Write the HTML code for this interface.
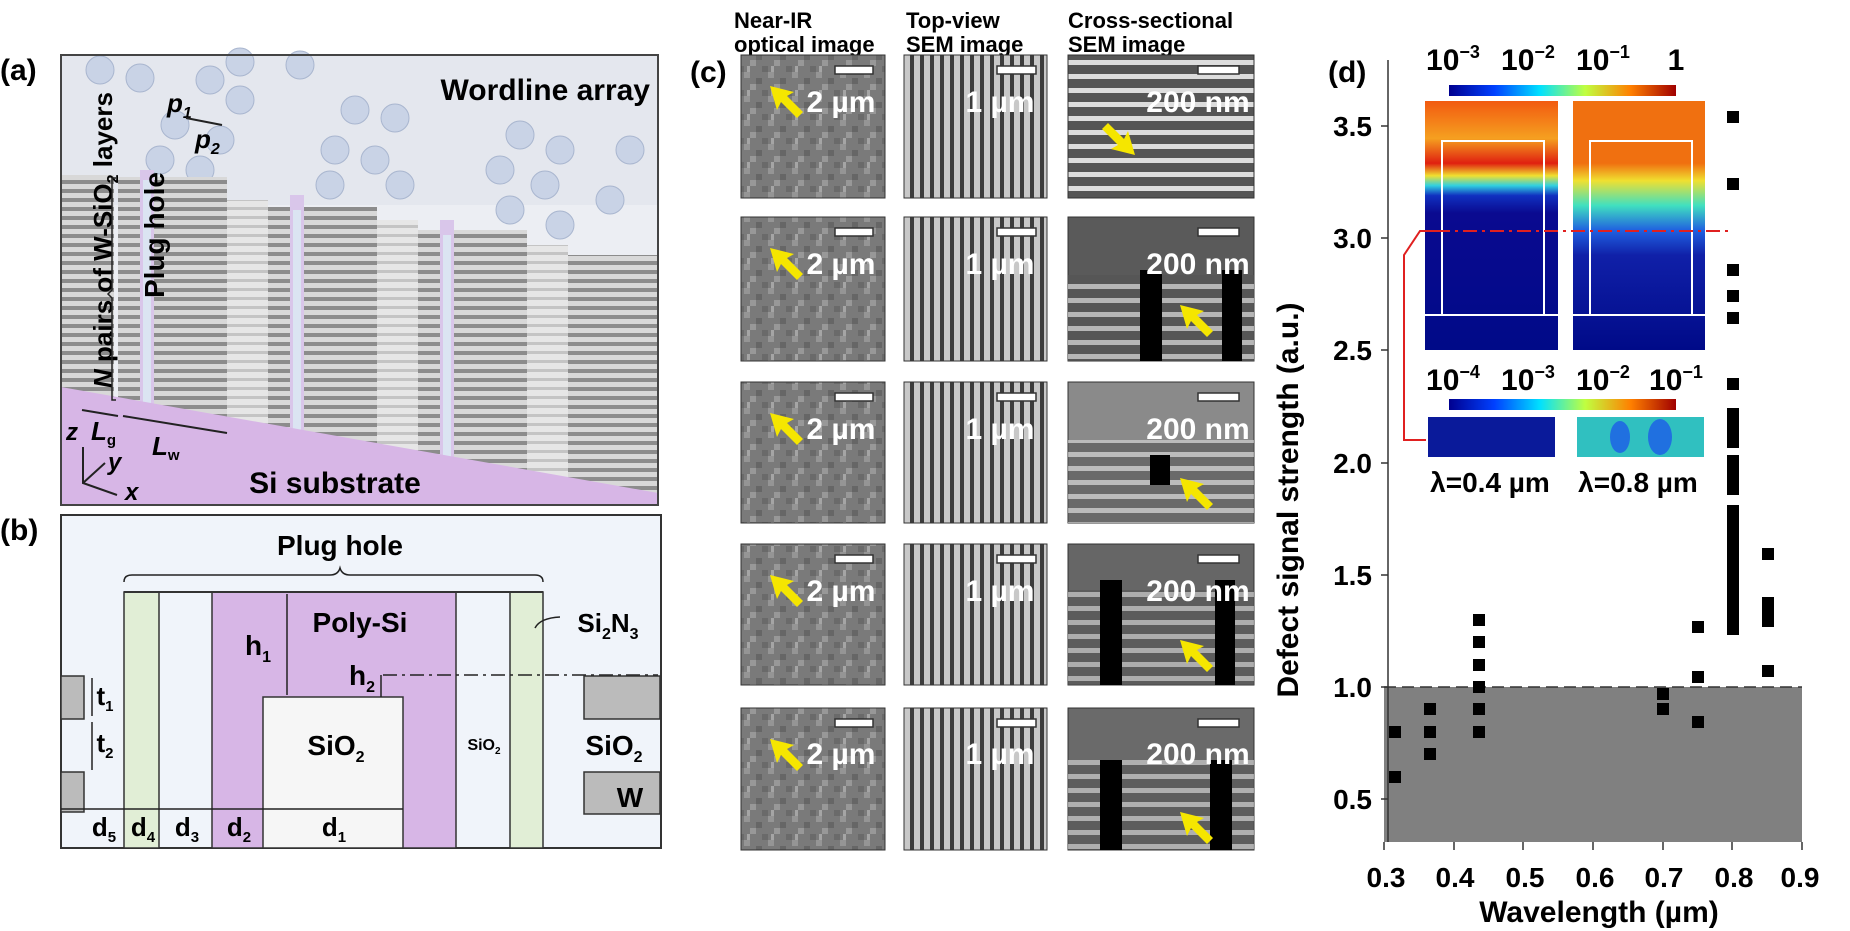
<!DOCTYPE html>
<html><head><meta charset="utf-8"><style>
html,body{margin:0;padding:0;background:#fff;}
svg{display:block;font-family:"Liberation Sans",Arial,sans-serif;font-weight:bold;}
</style></head><body>
<svg width="1850" height="931" viewBox="0 0 1850 931" xmlns="http://www.w3.org/2000/svg">
<defs>
<pattern id="stripes" width="10" height="9" patternUnits="userSpaceOnUse">
<rect width="10" height="9" fill="#d8d8d8"/><rect y="0" width="10" height="4" fill="#8c8c8c"/></pattern>
<pattern id="lstripes" width="10" height="9" patternUnits="userSpaceOnUse">
<rect width="10" height="9" fill="#e6e6e6"/><rect y="0" width="10" height="3" fill="#c4c4c4"/></pattern>
<pattern id="vstripes" width="10" height="10" patternUnits="userSpaceOnUse">
<rect width="10" height="10" fill="#c8c8c8"/><rect width="4" height="10" fill="#3c3c3c"/></pattern>
<pattern id="noise" width="24" height="24" patternUnits="userSpaceOnUse">
<rect width="24" height="24" fill="#7a7a7a"/><rect x="0" y="0" width="6" height="6" fill="#959595"/><rect x="12" y="6" width="6" height="6" fill="#666"/><rect x="6" y="12" width="6" height="6" fill="#989898"/><rect x="18" y="18" width="6" height="6" fill="#6a6a6a"/><rect x="3" y="18" width="3" height="6" fill="#a5a5a5"/></pattern>
<pattern id="hstr" width="10" height="14" patternUnits="userSpaceOnUse">
<rect width="10" height="14" fill="#555"/><rect y="4" width="10" height="5" fill="#ddd"/></pattern>
<linearGradient id="map1" x1="0" y1="0" x2="0" y2="1">
<stop offset="0" stop-color="#f25a10"/><stop offset="0.15" stop-color="#f5a020"/><stop offset="0.25" stop-color="#e02010"/><stop offset="0.3" stop-color="#f0e030"/><stop offset="0.34" stop-color="#30d0e0"/><stop offset="0.38" stop-color="#1030c0"/><stop offset="0.45" stop-color="#0a0a90"/><stop offset="1" stop-color="#000a88"/></linearGradient>
<linearGradient id="map2" x1="0" y1="0" x2="0" y2="1">
<stop offset="0" stop-color="#f07010"/><stop offset="0.25" stop-color="#f07010"/><stop offset="0.32" stop-color="#f0e030"/><stop offset="0.42" stop-color="#40e0c0"/><stop offset="0.52" stop-color="#2060e0"/><stop offset="0.62" stop-color="#1020a8"/><stop offset="1" stop-color="#000a88"/></linearGradient>
<linearGradient id="jet" x1="0" y1="0" x2="1" y2="0">
<stop offset="0" stop-color="#00008f"/><stop offset="0.2" stop-color="#0040ff"/><stop offset="0.4" stop-color="#00e0ff"/><stop offset="0.6" stop-color="#c0ff40"/><stop offset="0.8" stop-color="#ff8000"/><stop offset="1" stop-color="#a00000"/></linearGradient>
</defs>

<!-- Panel (a) -->
<text x="0" y="80" font-size="30">(a)</text>
<rect x="61" y="55" width="597" height="450" fill="#eceef3"/>
<rect x="61" y="55" width="597" height="150" fill="#e4e7ee"/>
<polygon points="227,200 268,200 268,460 227,450" fill="url(#lstripes)"/>
<polygon points="377,220 418,220 418,480 377,470" fill="url(#lstripes)"/>
<polygon points="527,245 568,245 568,500 527,490" fill="url(#lstripes)"/>
<g fill="#c9d3e6" stroke="#a9b6cf" stroke-width="1">
<circle cx="100" cy="70" r="14"/><circle cx="140" cy="78" r="14"/><circle cx="210" cy="80" r="14"/><circle cx="240" cy="100" r="14"/><circle cx="175" cy="125" r="14"/><circle cx="220" cy="140" r="14"/><circle cx="160" cy="160" r="14"/><circle cx="200" cy="170" r="14"/>
<circle cx="240" cy="62" r="14"/><circle cx="300" cy="65" r="14"/><circle cx="355" cy="110" r="14"/><circle cx="395" cy="118" r="14"/><circle cx="335" cy="150" r="14"/><circle cx="375" cy="160" r="14"/><circle cx="400" cy="185" r="14"/><circle cx="330" cy="185" r="14"/>
<circle cx="520" cy="135" r="14"/><circle cx="560" cy="150" r="14"/><circle cx="500" cy="170" r="14"/><circle cx="545" cy="185" r="14"/><circle cx="510" cy="210" r="14"/><circle cx="560" cy="225" r="14"/><circle cx="630" cy="150" r="14"/><circle cx="610" cy="200" r="14"/>
</g>
<rect x="61" y="175" width="53" height="230" fill="url(#stripes)"/>
<rect x="118" y="177" width="109" height="290" fill="url(#stripes)"/>
<rect x="140" y="170" width="14" height="300" fill="#d9c6ea"/><rect x="143" y="180" width="8" height="290" fill="#dbe4f2"/>
<rect x="268" y="207" width="109" height="290" fill="url(#stripes)"/>
<rect x="290" y="195" width="14" height="300" fill="#d9c6ea"/><rect x="293" y="210" width="8" height="290" fill="#dbe4f2"/>
<rect x="418" y="230" width="109" height="270" fill="url(#stripes)"/>
<rect x="440" y="220" width="14" height="280" fill="#d9c6ea"/><rect x="443" y="235" width="8" height="270" fill="#dbe4f2"/>
<rect x="568" y="255" width="90" height="250" fill="url(#stripes)"/>
<polygon points="61,387 658,493 658,505 61,505" fill="#d7b6e6"/>
<rect x="61" y="55" width="597" height="450" fill="none" stroke="#444" stroke-width="2"/>
<text x="650" y="100" font-size="30" text-anchor="end">Wordline array</text>
<text x="335" y="493" font-size="30" text-anchor="middle">Si substrate</text>
<text x="167" y="112" font-size="26" font-style="italic">p<tspan font-size="16" dy="6">1</tspan></text>
<text x="195" y="148" font-size="26" font-style="italic">p<tspan font-size="16" dy="6">2</tspan></text>
<line x1="186" y1="118" x2="222" y2="125" stroke="#222" stroke-width="2"/>
<text transform="translate(112,240) rotate(-90)" font-size="26" text-anchor="middle"><tspan font-style="italic">N</tspan> pairs of W-SiO<tspan font-size="16" dy="6">2</tspan><tspan dy="-6"> layers</tspan></text>
<path d="M116,178 L112,178 L112,290 L108,294 L112,298 L112,400 L116,400" fill="none" stroke="#222" stroke-width="1.5"/>
<text transform="translate(164,235) rotate(-90)" font-size="28" text-anchor="middle">Plug hole</text>
<line x1="82" y1="410" x2="118" y2="416" stroke="#222" stroke-width="2"/>
<line x1="123" y1="416" x2="227" y2="433" stroke="#222" stroke-width="2"/>
<text x="91" y="440" font-size="26" font-style="italic">L<tspan font-size="15" dy="5" font-style="normal">g</tspan></text>
<text x="152" y="455" font-size="26" font-style="italic">L<tspan font-size="15" dy="5" font-style="normal">w</tspan></text>
<text x="66" y="440" font-size="24" font-style="italic">z</text>
<text x="108" y="470" font-size="24" font-style="italic">y</text>
<text x="125" y="500" font-size="24" font-style="italic">x</text>
<path d="M83,447 L83,483 L117,495 M83,483 L105,463" fill="none" stroke="#222" stroke-width="2"/>

<!-- Panel (b) -->
<text x="0" y="540" font-size="30">(b)</text>
<rect x="61" y="515" width="600" height="333" fill="#f0f4fa" stroke="#333" stroke-width="2"/>
<text x="340" y="555" font-size="28" text-anchor="middle">Plug hole</text>
<path d="M124,582 Q124,575 132,575 L330,575 Q338,575 340,568 Q342,575 350,575 L535,575 Q543,575 543,582" fill="none" stroke="#222" stroke-width="1.5"/>
<rect x="124" y="592" width="35" height="256" fill="#e1eed6" stroke="#333" stroke-width="1.5"/>
<rect x="510" y="592" width="33" height="256" fill="#e1eed6" stroke="#333" stroke-width="1.5"/>
<rect x="212" y="592" width="244" height="256" fill="#d7b6e6" stroke="#333" stroke-width="1.5"/>
<line x1="124" y1="592" x2="543" y2="592" stroke="#333" stroke-width="2"/>
<rect x="263" y="697" width="140" height="151" fill="#f6f6f6" stroke="#333" stroke-width="1.5"/>
<text x="360" y="632" font-size="28" text-anchor="middle">Poly-Si</text>
<line x1="287" y1="594" x2="287" y2="695" stroke="#222" stroke-width="1.5"/>
<text x="258" y="655" font-size="28" text-anchor="middle">h<tspan font-size="16" dy="7">1</tspan></text>
<text x="362" y="685" font-size="28" text-anchor="middle">h<tspan font-size="16" dy="7">2</tspan></text>
<line x1="381" y1="675" x2="381" y2="697" stroke="#222" stroke-width="1.5"/>
<line x1="383" y1="675" x2="658" y2="675" stroke="#222" stroke-width="1.5" stroke-dasharray="14,5,3,5"/>
<text x="336" y="755" font-size="28" text-anchor="middle">SiO<tspan font-size="16" dy="7">2</tspan></text>
<text x="484" y="750" font-size="16" text-anchor="middle">SiO<tspan font-size="10" dy="4">2</tspan></text>
<text x="608" y="632" font-size="26" text-anchor="middle">Si<tspan font-size="16" dy="7">2</tspan><tspan dy="-7">N</tspan><tspan font-size="16" dy="7">3</tspan></text>
<path d="M535,628 Q540,618 560,617" fill="none" stroke="#222" stroke-width="1.5"/>
<rect x="61" y="676" width="23" height="43" fill="#bbb" stroke="#333" stroke-width="1.5"/>
<rect x="61" y="772" width="23" height="40" fill="#bbb" stroke="#333" stroke-width="1.5"/>
<rect x="584" y="676" width="76" height="43" fill="#bbb" stroke="#333" stroke-width="1.5"/>
<rect x="584" y="772" width="76" height="42" fill="#bbb" stroke="#333" stroke-width="1.5"/>
<text x="614" y="755" font-size="28" text-anchor="middle">SiO<tspan font-size="16" dy="7">2</tspan></text>
<text x="630" y="807" font-size="28" text-anchor="middle">W</text>
<text x="105" y="705" font-size="26" text-anchor="middle">t<tspan font-size="15" dy="6">1</tspan></text>
<text x="105" y="752" font-size="26" text-anchor="middle">t<tspan font-size="15" dy="6">2</tspan></text>
<line x1="92" y1="678" x2="92" y2="716" stroke="#222" stroke-width="1.5"/>
<line x1="92" y1="722" x2="92" y2="770" stroke="#222" stroke-width="1.5"/>
<line x1="61" y1="809" x2="403" y2="809" stroke="#222" stroke-width="1.5"/>
<g font-size="26" text-anchor="middle">
<text x="104" y="836">d<tspan font-size="15" dy="6">5</tspan></text>
<text x="143" y="836">d<tspan font-size="15" dy="6">4</tspan></text>
<text x="187" y="836">d<tspan font-size="15" dy="6">3</tspan></text>
<text x="239" y="836">d<tspan font-size="15" dy="6">2</tspan></text>
<text x="334" y="836">d<tspan font-size="15" dy="6">1</tspan></text>
</g>

<!-- Panel (c) -->
<text x="690" y="82" font-size="30">(c)</text>
<g font-size="22">
<text x="734" y="28">Near-IR</text><text x="734" y="52">optical image</text>
<text x="906" y="28">Top-view</text><text x="906" y="52">SEM image</text>
<text x="1068" y="28">Cross-sectional</text><text x="1068" y="52">SEM image</text>
</g>
<g>
<rect x="741" y="55" width="144" height="143" fill="url(#noise)" stroke="#333"/>
<rect x="904" y="55" width="143" height="143" fill="url(#vstripes)" stroke="#333"/>
<rect x="1068" y="55" width="186" height="143" fill="url(#hstr)" stroke="#333"/>
<rect x="741" y="217" width="144" height="144" fill="url(#noise)" stroke="#333"/>
<rect x="904" y="217" width="143" height="144" fill="url(#vstripes)" stroke="#333"/>
<rect x="1068" y="217" width="186" height="144" fill="#5a5a5a" stroke="#333"/>
<rect x="1068" y="275" width="186" height="86" fill="url(#hstr)" opacity="0.7"/>
<rect x="1140" y="270" width="22" height="91" fill="#000"/><rect x="1222" y="270" width="20" height="91" fill="#000"/>
<rect x="741" y="382" width="144" height="141" fill="url(#noise)" stroke="#333"/>
<rect x="904" y="382" width="143" height="141" fill="url(#vstripes)" stroke="#333"/>
<rect x="1068" y="382" width="186" height="141" fill="#8a8a8a" stroke="#333"/>
<rect x="1068" y="440" width="186" height="83" fill="url(#hstr)" opacity="0.6"/>
<rect x="1150" y="455" width="20" height="30" fill="#000"/>
<rect x="741" y="544" width="144" height="141" fill="url(#noise)" stroke="#333"/>
<rect x="904" y="544" width="143" height="141" fill="url(#vstripes)" stroke="#333"/>
<rect x="1068" y="544" width="186" height="141" fill="#666" stroke="#333"/>
<rect x="1068" y="590" width="186" height="95" fill="url(#hstr)" opacity="0.6"/>
<rect x="1100" y="580" width="22" height="105" fill="#000"/><rect x="1215" y="580" width="20" height="105" fill="#000"/>
<rect x="741" y="708" width="144" height="142" fill="url(#noise)" stroke="#333"/>
<rect x="904" y="708" width="143" height="142" fill="url(#vstripes)" stroke="#333"/>
<rect x="1068" y="708" width="186" height="142" fill="#6a6a6a" stroke="#333"/>
<rect x="1068" y="760" width="186" height="90" fill="url(#hstr)" opacity="0.6"/>
<rect x="1100" y="760" width="22" height="90" fill="#000"/><rect x="1210" y="760" width="22" height="90" fill="#000"/>
</g>
<g fill="#fff" stroke="#333" stroke-width="1.5">
<rect x="835" y="66" width="38" height="8"/><rect x="997" y="66" width="39" height="8"/><rect x="1198" y="66" width="41" height="8"/>
<rect x="835" y="228" width="38" height="8"/><rect x="997" y="228" width="39" height="8"/><rect x="1198" y="228" width="41" height="8"/>
<rect x="835" y="393" width="38" height="8"/><rect x="997" y="393" width="39" height="8"/><rect x="1198" y="393" width="41" height="8"/>
<rect x="835" y="555" width="38" height="8"/><rect x="997" y="555" width="39" height="8"/><rect x="1198" y="555" width="41" height="8"/>
<rect x="835" y="719" width="38" height="8"/><rect x="997" y="719" width="39" height="8"/><rect x="1198" y="719" width="41" height="8"/>
</g>
<g fill="#fff" font-size="30" text-anchor="middle">
<text x="841" y="112">2 µm</text><text x="1000" y="112">1 µm</text><text x="1198" y="112">200 nm</text>
<text x="841" y="274">2 µm</text><text x="1000" y="274">1 µm</text><text x="1198" y="274">200 nm</text>
<text x="841" y="439">2 µm</text><text x="1000" y="439">1 µm</text><text x="1198" y="439">200 nm</text>
<text x="841" y="601">2 µm</text><text x="1000" y="601">1 µm</text><text x="1198" y="601">200 nm</text>
<text x="841" y="764">2 µm</text><text x="1000" y="764">1 µm</text><text x="1198" y="764">200 nm</text>
</g>
<g fill="#f5e600">
<polygon points="770,86 794,92 787,96 803,112 797,118 781,102 777,110"/>
<polygon points="770,248 794,254 787,258 803,274 797,280 781,264 777,272"/>
<polygon points="770,413 794,419 787,423 803,439 797,445 781,429 777,437"/>
<polygon points="770,575 794,581 787,585 803,601 797,607 781,591 777,599"/>
<polygon points="770,739 794,745 787,749 803,765 797,771 781,755 777,763"/>
<polygon points="1135,155 1111,149 1118,145 1102,129 1108,123 1124,139 1128,131"/>
<polygon points="1180,305 1204,311 1197,315 1213,331 1207,337 1191,321 1187,329"/>
<polygon points="1180,478 1204,484 1197,488 1213,504 1207,510 1191,494 1187,502"/>
<polygon points="1180,640 1204,646 1197,650 1213,666 1207,672 1191,656 1187,664"/>
<polygon points="1180,812 1204,818 1197,822 1213,838 1207,844 1191,828 1187,836"/>
</g>

<!-- Panel (d) -->
<text x="1328" y="82" font-size="30">(d)</text>
<rect x="1384" y="687" width="418" height="155" fill="#808080"/>
<line x1="1388" y1="60" x2="1388" y2="842" stroke="#333" stroke-width="1.5"/>
<line x1="1384" y1="687" x2="1802" y2="687" stroke="#333" stroke-width="1.5" stroke-dasharray="12,6"/>
<g stroke="#333" stroke-width="1.5">
<line x1="1384" y1="842" x2="1384" y2="850"/><line x1="1454" y1="842" x2="1454" y2="850"/><line x1="1523" y1="842" x2="1523" y2="850"/><line x1="1593" y1="842" x2="1593" y2="850"/><line x1="1663" y1="842" x2="1663" y2="850"/><line x1="1732" y1="842" x2="1732" y2="850"/><line x1="1802" y1="842" x2="1802" y2="850"/>
<line x1="1381" y1="799" x2="1388" y2="799"/><line x1="1381" y1="687" x2="1388" y2="687"/><line x1="1381" y1="575" x2="1388" y2="575"/><line x1="1381" y1="463" x2="1388" y2="463"/><line x1="1381" y1="350" x2="1388" y2="350"/><line x1="1381" y1="238" x2="1388" y2="238"/><line x1="1381" y1="126" x2="1388" y2="126"/>
</g>
<g font-size="28" text-anchor="middle">
<text x="1386" y="887">0.3</text><text x="1455" y="887">0.4</text><text x="1525" y="887">0.5</text><text x="1595" y="887">0.6</text><text x="1664" y="887">0.7</text><text x="1734" y="887">0.8</text><text x="1800" y="887">0.9</text>
</g>
<g font-size="28" text-anchor="end">
<text x="1372" y="809">0.5</text><text x="1372" y="697">1.0</text><text x="1372" y="585">1.5</text><text x="1372" y="473">2.0</text><text x="1372" y="360">2.5</text><text x="1372" y="248">3.0</text><text x="1372" y="136">3.5</text>
</g>
<text x="1599" y="922" font-size="30" text-anchor="middle">Wavelength (µm)</text>
<text transform="translate(1298,500) rotate(-90)" font-size="30" text-anchor="middle">Defect signal strength (a.u.)</text>

<rect x="1449" y="85" width="227" height="11" fill="url(#jet)"/>
<g font-size="30" text-anchor="middle">
<text x="1453" y="70">10<tspan font-size="18" dy="-12">−3</tspan></text>
<text x="1528" y="70">10<tspan font-size="18" dy="-12">−2</tspan></text>
<text x="1603" y="70">10<tspan font-size="18" dy="-12">−1</tspan></text>
<text x="1676" y="70">1</text>
</g>
<rect x="1425" y="101" width="133" height="249" fill="url(#map1)"/>
<rect x="1573" y="101" width="132" height="249" fill="url(#map2)"/>
<g fill="none" stroke="#fff" stroke-width="2">
<rect x="1442" y="141" width="102" height="174"/><line x1="1425" y1="315" x2="1558" y2="315"/>
<rect x="1590" y="141" width="102" height="174"/><line x1="1573" y1="315" x2="1705" y2="315"/>
</g>
<rect x="1449" y="399" width="227" height="11" fill="url(#jet)"/>
<g font-size="30" text-anchor="middle">
<text x="1453" y="390">10<tspan font-size="18" dy="-12">−4</tspan></text>
<text x="1528" y="390">10<tspan font-size="18" dy="-12">−3</tspan></text>
<text x="1603" y="390">10<tspan font-size="18" dy="-12">−2</tspan></text>
<text x="1676" y="390">10<tspan font-size="18" dy="-12">−1</tspan></text>
</g>
<rect x="1428" y="417" width="127" height="40" fill="#0a1a9a"/>
<rect x="1577" y="417" width="127" height="40" fill="#30c0c0"/>
<ellipse cx="1660" cy="437" rx="12" ry="18" fill="#2070e0"/><ellipse cx="1620" cy="437" rx="10" ry="16" fill="#2070e0"/>
<g font-size="28" text-anchor="middle"><text x="1490" y="492">λ=0.4 µm</text><text x="1638" y="492">λ=0.8 µm</text></g>
<line x1="1436" y1="231" x2="1730" y2="231" stroke="#e02020" stroke-width="2" stroke-dasharray="14,5,3,5"/>
<polyline points="1436,231 1420,231 1404,255 1404,440 1426,440" fill="none" stroke="#e02020" stroke-width="2"/>

<g fill="#000">
<rect x="1389" y="771" width="12" height="12"/><rect x="1389" y="726" width="12" height="12"/>
<rect x="1424" y="748" width="12" height="12"/><rect x="1424" y="726" width="12" height="12"/><rect x="1424" y="703" width="12" height="12"/>
<rect x="1473" y="726" width="12" height="12"/><rect x="1473" y="703" width="12" height="12"/><rect x="1473" y="681" width="12" height="12"/><rect x="1473" y="659" width="12" height="12"/><rect x="1473" y="636" width="12" height="12"/><rect x="1473" y="614" width="12" height="12"/>
<rect x="1657" y="703" width="12" height="12"/><rect x="1657" y="688" width="12" height="12"/>
<rect x="1692" y="716" width="12" height="12"/><rect x="1692" y="671" width="12" height="12"/><rect x="1692" y="621" width="12" height="12"/>
<rect x="1727" y="111" width="12" height="12"/><rect x="1727" y="178" width="12" height="12"/><rect x="1727" y="264" width="12" height="12"/><rect x="1727" y="290" width="12" height="12"/><rect x="1727" y="312" width="12" height="12"/>
<rect x="1727" y="378" width="12" height="12"/><rect x="1727" y="408" width="12" height="40"/><rect x="1727" y="455" width="12" height="40"/><rect x="1727" y="505" width="12" height="130"/>
<rect x="1762" y="548" width="12" height="12"/><rect x="1762" y="597" width="12" height="30"/><rect x="1762" y="665" width="12" height="12"/>
</g>
</svg>
</body></html>
